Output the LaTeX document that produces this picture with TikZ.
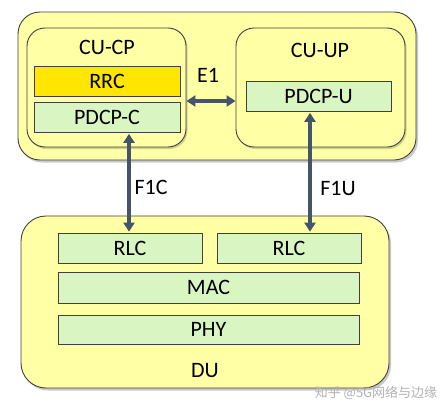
\documentclass[tikz,border=0pt]{standalone}
\usepackage{fontspec}
\setmainfont{Carlito}
\newfontfamily\cjk{Noto Sans CJK SC}
\usetikzlibrary{arrows.meta,shadows,calc}
\definecolor{boxyellow}{HTML}{FFFFA6}
\definecolor{rrcyellow}{HTML}{FFE600}
\definecolor{layergreen}{HTML}{D8F5C2}
\definecolor{arrowblue}{HTML}{44546A}
\definecolor{edgegray}{HTML}{404040}
\begin{document}
\begin{tikzpicture}[x=1pt,y=-1pt,
  outerbox/.style={draw=edgegray,line width=0.9pt,fill=boxyellow,rounded corners=#1,
    drop shadow={shadow xshift=2pt,shadow yshift=-2.5pt,opacity=0.35,fill=black!60}},
  innerbox/.style={draw=edgegray,line width=0.9pt,fill=boxyellow,rounded corners=18pt,
    drop shadow={shadow xshift=1.5pt,shadow yshift=-2pt,opacity=0.3,fill=black!60}},
  layer/.style={draw=edgegray,line width=0.7pt,fill=layergreen,inner sep=0pt,font=\fontsize{22}{25}\selectfont},
  lbl/.style={font=\fontsize{22}{25}\selectfont,inner sep=0pt},
  arr/.style={draw=arrowblue,line width=3.8pt,{Triangle[length=9pt,width=11pt]}-{Triangle[length=9pt,width=11pt]}}]
\useasboundingbox (0,0) rectangle (444,415);
\fill[white] (0,0) rectangle (444,415);
% CU outer
\node[outerbox=22pt,minimum width=398pt,minimum height=148pt] (cu) at (217,86) {};
\node[innerbox,minimum width=159pt,minimum height=119pt] (cucp) at (106.5,87.5) {};
\node[innerbox,minimum width=169pt,minimum height=119pt] (cuup) at (320.5,87.5) {};
\node[lbl] (cucplbl) at (107,47) {CU-CP};
\node[lbl] (cuuplbl) at (320,50) {CU-UP};
\node[layer,fill=rrcyellow,minimum width=146pt,minimum height=30pt] (rrc) at (107,81) {RRC};
\node[layer,minimum width=146pt,minimum height=30pt] (pdcpc) at (107,117) {PDCP-C};
\node[layer,minimum width=145pt,minimum height=30pt] (pdcpu) at (318.5,96) {PDCP-U};
\node[lbl] (e1) at (208,75) {E1};
% DU
\node[outerbox=25pt,minimum width=368pt,minimum height=172pt] (du) at (205,302) {};
\node[layer,minimum width=144pt,minimum height=30pt] (rlc1) at (130,248) {RLC};
\node[layer,minimum width=144pt,minimum height=30pt] (rlc2) at (289,248) {RLC};
\node[layer,minimum width=301pt,minimum height=31pt] (mac) at (208.5,287.5) {MAC};
\node[layer,minimum width=301pt,minimum height=29pt] (phy) at (208.5,329.5) {PHY};
\node[lbl] (dulbl) at (205,371) {DU};
% interfaces
\coordinate (e1y) at (0,101);
\coordinate (f1cx) at (129,0);
\coordinate (f1ux) at (310,0);
\draw[arr] (cucp.east |- e1y) -- (cuup.west |- e1y);
\draw[arr] ($(pdcpc.south -| f1cx)+(0,1.5)$) -- ($(rlc1.north -| f1cx)+(0,-1)$);
\draw[arr] ($(pdcpu.south -| f1ux)+(0,1.5)$) -- ($(rlc2.north -| f1ux)+(0,-1)$);
\node[lbl] (f1c) at (151,187) {F1C};
\node[lbl] (f1u) at (338,188) {F1U};
% watermark
\node[inner sep=0pt,text=black!30,font=\cjk\fontsize{13}{15}\selectfont] (wm) at (376,393) {知乎 @5G网络与边缘};
\end{tikzpicture}
\end{document}
